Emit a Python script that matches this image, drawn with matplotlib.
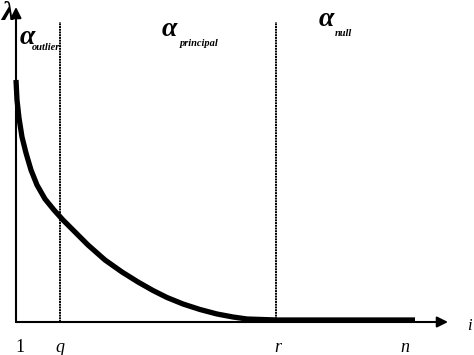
import matplotlib
matplotlib.use("Agg")
import matplotlib.pyplot as plt

# eigenvalue index positions (horizontal units) and eigenvalue magnitudes
index_pos = [0, 1, 3, 6, 10, 15, 21, 29, 38, 47, 53, 59, 72, 89, 106, 122, 137,
             151, 167, 184, 201, 217, 231, 261, 399]
eigenvalues = [242, 222, 204, 185, 169, 152, 137, 123, 112, 102, 96, 90, 77, 62, 50, 40, 31.5,
               24.5, 18, 12.5, 8, 5, 3, 2, 2]

# region boundaries and axis tick labels
boundaries = [44, 260]
tick_pos = [4, 44, 262, 389]
tick_labels = ["1", "q", "r", "n"]
tick_italic = [False, True, True, True]

region_labels = ["outlier", "principal", "null"]
region_alpha_pos = [(11, 285), (153, 292), (310, 302)]
region_sub_pos = [(16, 274), (164, 278), (319, 288)]

fig = plt.figure(figsize=(4.74, 3.55), dpi=100)
ax = fig.add_axes([0, 0, 1, 1])
ax.set_xlim(-16, 458)
ax.set_ylim(-33, 322)
ax.axis("off")

serif = ["Liberation Serif", "DejaVu Serif"]

# axes with arrows
ax.annotate("", xy=(432, 0), xytext=(0, 0),
            arrowprops=dict(arrowstyle="-|>", lw=1.5, color="black",
                            mutation_scale=16, shrinkA=0, shrinkB=0))
ax.annotate("", xy=(0, 315), xytext=(0, 0),
            arrowprops=dict(arrowstyle="-|>", lw=1.5, color="black",
                            mutation_scale=16, shrinkA=0, shrinkB=0))

# dotted boundaries
for b in boundaries:
    ax.plot([b, b], [0, 300], color="black", lw=1.4, ls=(0, (1, 0.4)))

# eigenvalue curve
ax.plot(index_pos, eigenvalues, color="black", lw=3.8, solid_capstyle="butt",
        solid_joinstyle="round")

# axis labels
ax.text(-8, 308, "λ", fontsize=20, fontstyle="italic", fontweight="bold",
        family=serif, ha="center", va="center")
ax.text(451, -4, "i", fontsize=12, fontstyle="italic", family=serif,
        ha="left", va="center")

for p, lab, it in zip(tick_pos, tick_labels, tick_italic):
    ax.text(p, -25, lab, fontsize=13, fontstyle="italic" if it else "normal",
            family=serif, ha="center", va="center")

for (ax_, ay), (sx, sy), lab in zip(region_alpha_pos, region_sub_pos, region_labels):
    ax.text(ax_, ay, "α", fontsize=20, fontstyle="italic", fontweight="bold",
            family=serif, ha="center", va="center")
    ax.text(sx, sy, lab, fontsize=7.5, fontstyle="italic", fontweight="bold",
            family=serif, ha="left", va="center")

fig.savefig("out.png", dpi=100)
